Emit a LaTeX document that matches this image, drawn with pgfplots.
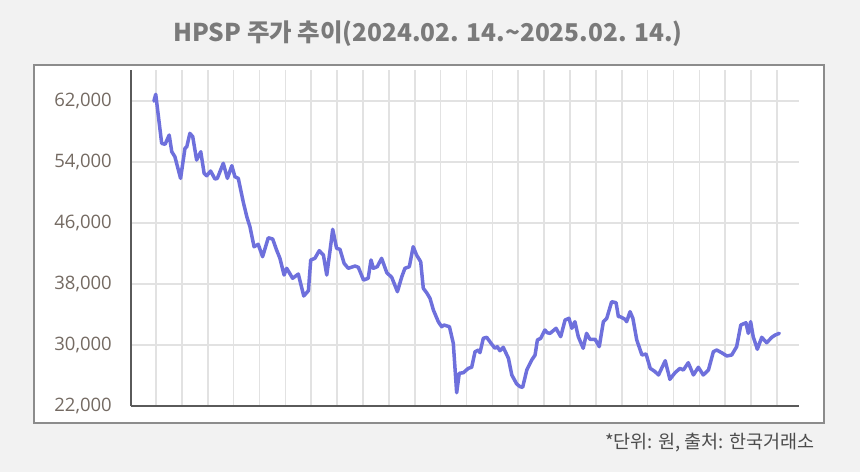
\documentclass[border=0pt]{standalone}
\usepackage{pgfplots}
\pgfplotsset{compat=1.18}
\usepackage{fontspec}
\setmainfont{Open Sans}
\newfontfamily\cjk{Noto Sans CJK KR}

\definecolor{bg}{HTML}{F2F2F2}
\definecolor{frame}{HTML}{8C8C8C}
\definecolor{gridc}{HTML}{E2E2E2}
\definecolor{axisc}{HTML}{5A5A5A}
\definecolor{tickc}{HTML}{746A62}
\definecolor{linec}{RGB}{110,112,220}

% trading day index, closing price (won)
\pgfplotstableread{
d v
-0.8 62000
-0.1 62880
2.2 56450
3.5 56320
5.1 57540
6.1 55350
7.3 54700
9.5 51860
11.2 55800
11.9 56010
13.1 57760
14.2 57320
15.7 54260
17.3 55350
18.6 52520
19.6 52200
21.1 52820
22.8 51770
23.7 51860
26.0 53830
27.6 51860
29.3 53520
30.5 52070
31.8 51860
33.7 48790
35.1 46830
36.3 45520
37.9 42890
39.5 43210
41.2 41580
43.4 44070
45.1 43900
46.6 42460
47.9 41370
49.5 39180
50.5 40060
52.8 38750
55.0 39310
57.1 36430
58.9 37120
59.8 41150
61.4 41370
63.1 42370
64.7 41800
66.0 39180
67.2 42240
68.3 45170
69.8 42680
71.1 42550
72.7 40710
74.3 40060
76.9 40360
78.2 40190
80.2 38520
82.0 38750
83.1 41150
84.0 40060
85.5 40270
87.2 41370
89.2 39480
91.1 38880
93.3 36990
95.0 38960
96.2 40060
97.9 40270
99.4 42890
100.7 41800
102.3 40920
103.3 37440
104.6 36860
105.9 36120
107.2 34590
109.1 33060
110.4 32400
111.3 32620
113.4 32400
114.9 30220
116.2 23740
117.2 26290
118.8 26370
120.7 26940
122.0 27080
123.3 29120
124.6 29340
125.2 28990
126.5 30880
127.8 31010
129.7 30130
131.0 29570
131.9 29780
132.9 29250
134.2 29700
136.2 28260
137.5 26070
139.4 24890
140.7 24530
141.7 24450
143.3 26720
145.2 28030
146.5 28690
147.4 30660
148.7 30880
150.3 31970
151.2 31610
152.3 31530
154.6 32190
156.4 31090
158.1 33280
159.6 33500
160.7 32190
161.9 33060
163.2 31090
165.1 29570
166.4 31530
167.7 30750
169.7 30750
171.3 29780
172.9 33060
174.2 33500
176.1 35680
177.8 35550
178.7 33710
179.4 33710
181.3 33370
181.9 33060
183.2 34370
184.3 33500
185.8 30660
187.8 28690
189.4 28820
191.0 26940
192.9 26500
194.2 26070
196.8 27940
198.6 25500
200.6 26370
202.5 26940
203.8 26720
205.7 27680
207.7 26070
209.6 27080
211.5 26070
213.5 26720
215.4 29120
216.7 29340
218.6 28990
220.6 28560
222.5 28690
224.4 29780
226.0 32620
228.0 32920
228.9 31530
229.8 33060
230.8 31090
232.4 29440
234.1 31010
236.0 30300
238.0 31010
239.3 31310
240.9 31530
}\price

\begin{document}
\begin{tikzpicture}
\useasboundingbox (0,0) rectangle (860pt,472pt);
\fill[bg] (0,0) rectangle (860pt,472pt);
\filldraw[fill=white, draw=frame, line width=1.2pt] (34pt,49pt) rectangle (824pt,407pt);

\node[text=black!52, font=\cjk\bfseries\fontsize{24.5}{28}\selectfont] at (428pt,438pt)
  {HPSP 주가 추이(2024.02. 14.\string~2025.02. 14.)};
\node[anchor=east, text=black!70, font=\cjk\fontsize{18.5}{22}\selectfont] at (818pt,29pt)
  {*단위: 원, 출처: 한국거래소};

\begin{axis}[
    at={(131pt,66pt)}, anchor=south west,
    scale only axis,
    width=668pt, height=336pt,
    xmin=-9.66, xmax=248.5,
    ymin=22000, ymax=66070,
    axis x line=bottom, axis y line=left,
    axis line style={-, axisc, line width=1.4pt},
    xtick={0,10,...,240}, xticklabels={},
    ytick={22000,30000,...,62000},
    scaled y ticks=false,
    major tick length=0pt,
    grid=major,
    major grid style={gridc, line width=1.6pt},
    /pgf/number format/.cd, fixed, precision=0, 1000 sep={,}, assume math mode=true,
    /pgfplots/.cd,
    yticklabel style={text=tickc, font=\fontsize{18.5}{20}\selectfont, inner sep=0pt, xshift=-19pt},
  ]
  \addplot[linec, line width=3.5pt, line join=round, line cap=round] table[x=d, y=v] {\price};
\end{axis}
\end{tikzpicture}
\end{document}
